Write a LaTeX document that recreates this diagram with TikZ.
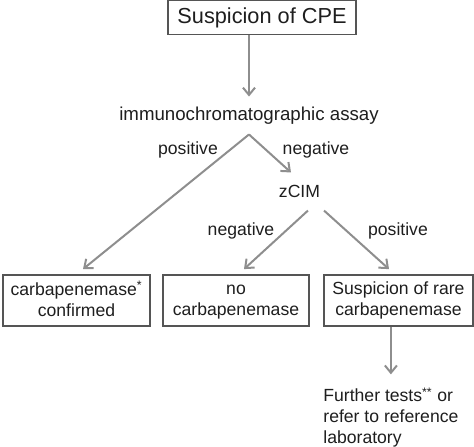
\documentclass[tikz,border=0pt]{standalone}
\usepackage{fontspec}
\setmainfont{Liberation Sans}
\usetikzlibrary{arrows.meta, positioning, calc}

\definecolor{linegray}{HTML}{8E8E8E}
\definecolor{boxgray}{HTML}{555555}
\definecolor{inkgray}{HTML}{1E1E1E}

\newcommand{\lnstrut}{\rule[-3pt]{0pt}{13pt}}

\tikzset{
  arr/.style={-{Straight Barb[length=5.5pt,width=9pt]}, draw=linegray, line width=1.5pt},
  outbox/.style={draw=boxgray, line width=1.3pt, minimum height=38.25pt, align=center, inner sep=0pt},
  lbl/.style={inner sep=0pt}
}

\begin{document}
\begin{tikzpicture}[x=0.75pt, y=-0.75pt, every node/.style={text=inkgray, font=\fontsize{13.2}{15.75}\selectfont}]
    \useasboundingbox (0,0) rectangle (474,446);

    \node[draw=boxgray, line width=1.3pt, minimum width=141pt, minimum height=25.5pt, font=\fontsize{16.3}{19}\selectfont] (susp) at (262,17.5) {Suspicion of CPE};
    \node[inner sep=7.5pt, font=\fontsize{14}{16}\selectfont] (assay) at (249,115.5) {immunochromatographic assay};
    \node[inner xsep=6pt, inner ysep=9.4pt] (zcim) at (299.5,191.5) {zCIM};

    \node[lbl] (pos1) at (188,150) {positive};
    \node[lbl] (neg1) at (316,150) {negative};
    \node[lbl] (neg2) at (241,231) {negative};
    \node[lbl] (pos2) at (398,231) {positive};

    \node[outbox, minimum width=110.25pt] (conf) at (76.5,300.5) {\lnstrut carbapenemase\textsuperscript{*}\\\lnstrut confirmed};
    \node[outbox, minimum width=109.5pt] (nocarb) at (236,300.5) {\lnstrut no\\\lnstrut carbapenemase};
    \node[outbox, minimum width=111.75pt] (rare) at (398.5,300.5) {\lnstrut Suspicion of rare\\\lnstrut carbapenemase};
    \node[anchor=north west, align=left, inner xsep=0pt, inner ysep=9.75pt] (further) at ($(rare.south west)+(0,47.5)$) {Further tests\textsuperscript{**} or\\refer to reference\\laboratory};

    \draw[arr] (susp.south -| assay) -- (assay.north);
    \draw[arr] (assay.south) -- ($(conf.north)+(6.5,-5)$);
    \draw[arr] (assay.south) -- ($(zcim.north)+(-8.5,0)$);
    \draw[arr] ($(zcim.south)+(8.5,0)$) -- ($(nocarb.north)+(8,-5)$);
    \draw[arr] ($(zcim.south)+(24.5,0)$) -- ($(rare.north)+(-9.5,-5)$);
    \draw[arr] (rare.south -| further.north) -- (further.north);
  \end{tikzpicture}
\end{document}
